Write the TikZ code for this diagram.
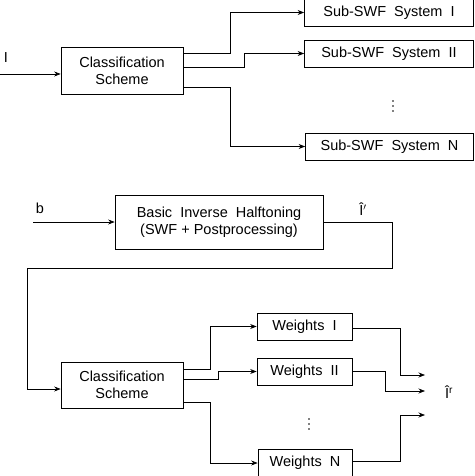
\documentclass[tikz,border=0pt]{standalone}
\usepackage{fontspec}
\setmainfont{Liberation Sans}
\usetikzlibrary{arrows.meta}
\begin{document}
\begin{tikzpicture}[x=1pt,y=-1pt,
            blk/.style={draw,line width=0.7pt,inner sep=0pt,align=center},
            conn/.style={line width=0.7pt},
            arr/.style={conn,-{Stealth[length=6.5pt,width=5pt]}},
            vdot/.style={circle,fill,inner sep=0pt,minimum size=1.6pt}]
            \fontsize{14.5}{17}\selectfont
            \useasboundingbox (0,0) rectangle (474,476);
            % upper scheme
            \node[blk,minimum width=122pt,minimum height=47pt] (cls1) at (122,70.5) {Classification\\Scheme};
            \node[blk,minimum width=169pt,minimum height=27pt] (sub1) at (389,12.5) {Sub-SWF\ \ System\ \ I};
            \node[blk,minimum width=169pt,minimum height=27pt] (sub2) at (389,53.5) {Sub-SWF\ \ System\ \ II};
            \node[blk,minimum width=168pt,minimum height=27pt] (subN) at (389.5,146.5) {Sub-SWF\ \ System\ \ N};
            \foreach \k in {0,1,2} \node[vdot] (dA\k) at (393,101+5*\k) {};
            \coordinate (in1) at (0,74);
            \node (lblI) at (6,58) {I};
            \draw[arr] (in1) -- (in1 -| cls1.west);
            \draw[arr] (cls1.east |- 0,53) -- (230,53) -- (230,12.5) -- (sub1.west);
            \draw[arr] (cls1.east |- 0,67) -- (244,67) -- (244,53.5) -- (sub2.west);
            \draw[arr] (cls1.east |- 0,87) -- (230,87) -- (230,146.5) -- (subN.west);
            % lower scheme
            \node[blk,minimum width=208pt,minimum height=54pt] (basic) at (219,222) {Basic\ \ Inverse\ \ Halftoning\\(SWF + Postprocessing)};
            \node[blk,minimum width=122pt,minimum height=46pt] (cls2) at (122,385) {Classification\\Scheme};
            \node[blk,minimum width=95pt,minimum height=27pt] (w1) at (304.5,326.5) {Weights\ \ I};
            \node[blk,minimum width=95pt,minimum height=27pt] (w2) at (304.5,371.5) {Weights\ \ II};
            \node[blk,minimum width=94pt,minimum height=28pt] (wN) at (305,463) {Weights\ \ N};
            \foreach \k in {0,1,2} \node[vdot] (dB\k) at (309,419+5*\k) {};
            \coordinate (in2) at (33,222);
            \node (lblb) at (40,208) {b};
            \node (lblhat) at (363,209) {\^{I}$'$};
            \node (lblout) at (449,392) {\^{I}\textsuperscript{r}};
            \draw[arr] (in2) -- (basic.west);
            \draw[arr] (basic.east) -- (392,222) -- (392,268) -- (27,268) -- (27,389) -- (cls2.west |- 0,389);
            \draw[arr] (cls2.east |- 0,369) -- (210,369) -- (210,326.5) -- (w1.west);
            \draw[arr] (cls2.east |- 0,379) -- (218,379) -- (218,371.5) -- (w2.west);
            \draw[arr] (cls2.east |- 0,402) -- (210,402) -- (210,463) -- (wN.west);
            \draw[arr] (w1.east |- 0,328) -- (400,328) -- (400,375) -- (425,375);
            \draw[arr] (w2.east |- 0,371) -- (385,371) -- (385,391) -- (425,391);
            \draw[arr] (wN.east |- 0,461) -- (400,461) -- (400,415) -- (425,415);
        \end{tikzpicture}
\end{document}
